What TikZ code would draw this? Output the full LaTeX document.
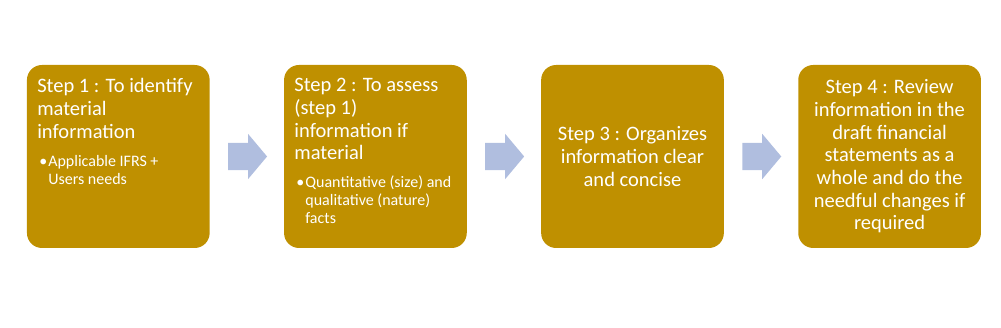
\documentclass[tikz,border=0pt]{standalone}
\usepackage{fontspec}
\setmainfont{Carlito}
\usetikzlibrary{positioning,shapes.arrows}
\definecolor{stepgold}{HTML}{BF9000}
\definecolor{flowblue}{HTML}{B0BEDF}

\newcommand{\steptitle}{\fontsize{20.5}{22.7}\selectfont}
\newcommand{\stepbullet}[1]{\par\vspace{10pt}{\fontsize{16}{18}\selectfont
  \noindent\hangindent=11pt\hangafter=1\makebox[11pt][l]{\hspace{2pt}\textbullet}#1\par}}

\begin{document}
\begin{tikzpicture}[
  x=1pt, y=1pt,
  stepbox/.style={fill=stepgold, rounded corners=15pt, text=white,
    minimum width=182.7pt, minimum height=183pt, inner sep=0pt},
  flow/.style={single arrow, fill=flowblue, draw=none, inner xsep=0pt,
    inner ysep=13.5pt, minimum height=39pt, single arrow head extend=9pt,
    single arrow tip angle=100},
  node distance=74pt
]
\useasboundingbox (0,0) rectangle (1001,328);
\node[stepbox] (s1) at (118.3,171.5) {\parbox[c][163pt][t]{162pt}{\raggedright
  \vspace*{3.5pt}\steptitle Step 1 : To identify material information
  \stepbullet{Applicable IFRS +\newline Users needs}\vfill}};
\node[stepbox, right=of s1] (s2) {\parbox[c][163pt][t]{162pt}{\raggedright
  \vspace*{3.5pt}\steptitle Step 2 : To assess (step 1) information if material
  \stepbullet{Quantitative (size) and qualitative (nature) facts}\vfill}};
\node[stepbox, right=of s2] (s3) {\parbox[c][163pt][c]{162pt}{\centering
  \steptitle Step 3 : Organizes information clear and concise\par}};
\node[stepbox, right=of s3] (s4) {\parbox[c][163pt][c]{162pt}{\centering
  \steptitle Step 4 : Review information in the draft financial
  statements as a whole and do the needful changes if required\par}};
% arrows between steps
\node[flow, right=18pt of s1] (a1) {};
\node[flow, right=18pt of s2] (a2) {};
\node[flow, right=18pt of s3] (a3) {};
\end{tikzpicture}
\end{document}
